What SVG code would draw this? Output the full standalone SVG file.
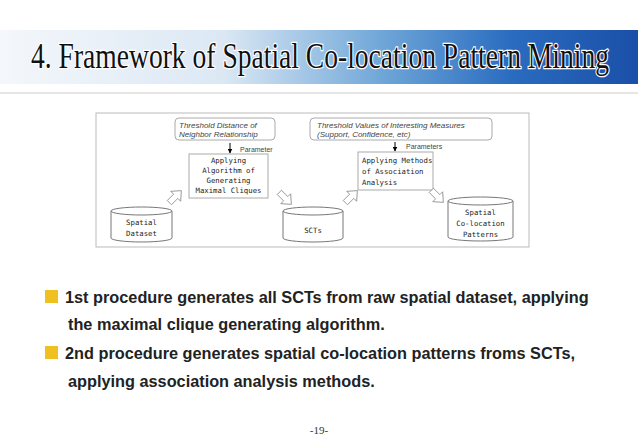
<svg xmlns="http://www.w3.org/2000/svg" width="638" height="442" viewBox="0 0 638 442">
<defs>
<linearGradient id="hg" x1="0" y1="0" x2="1" y2="0">
<stop offset="0" stop-color="#f4f7fb"/><stop offset="0.35" stop-color="#dbe8f4"/><stop offset="0.6" stop-color="#6fa6d8"/><stop offset="0.8" stop-color="#2a6cc0"/><stop offset="1" stop-color="#1a4fa8"/>
</linearGradient>
<marker id="ah" viewBox="0 0 10 10" refX="9" refY="5" markerWidth="5" markerHeight="5" orient="auto"><path d="M0,0 L10,5 L0,10 z" fill="#000"/></marker>
<g id="hol"><path d="M-8,-3 L1,-3 L1,-7 L9,0 L1,7 L1,3 L-8,3 z" fill="#fff" stroke="#888" stroke-width="0.8"/></g>
</defs>
<style>
.mono{font-family:"DejaVu Sans Mono","Liberation Mono",monospace;font-size:7.3px;fill:#222}
.ital{font-family:"Liberation Sans",Arial,sans-serif;font-style:italic;font-size:8px;fill:#444}
.sm{font-family:"Liberation Sans",Arial,sans-serif;font-size:7px;fill:#444}
.box{fill:#fff;stroke:#aaa;stroke-width:1}
.cyl{fill:#fff;stroke:#666;stroke-width:0.9}
.bt{font-family:"Liberation Sans",Arial,sans-serif;font-weight:bold;font-size:16.3px;fill:#222}
</style>
<rect width="638" height="442" fill="#fff"/>
<rect x="0" y="30" width="638" height="54" fill="url(#hg)"/>
<g id="title">
<text x="31" y="68" font-family="Liberation Serif,serif" font-size="36" fill="#111" stroke="#fff" stroke-width="2.5" paint-order="stroke" textLength="578" lengthAdjust="spacingAndGlyphs">4. Framework of Spatial Co-location Pattern Mining</text>
</g>
<line x1="0" y1="93" x2="638" y2="93" stroke="#ccc" stroke-width="1"/>
<rect x="96" y="113" width="433" height="134" fill="#fff" stroke="#bbb"/>
<g id="thr1"><rect x="175" y="118" width="100" height="22" rx="4" class="box"/>
<text x="179" y="128" class="ital">Threshold Distance of</text><text x="179" y="137" class="ital">Neighbor Relationship</text></g>
<g id="thr2"><rect x="310" y="118" width="182" height="22" rx="4" class="box"/>
<text x="317" y="128" class="ital">Threshold Values of Interesting Measures</text><text x="317" y="137" class="ital">(Support, Confidence, etc)</text></g>
<g id="alg"><rect x="189" y="154" width="79" height="44" class="box"/>
<text class="mono" text-anchor="middle"><tspan x="228.5" y="163">Applying</tspan><tspan x="228.5" y="173">Algorithm of</tspan><tspan x="228.5" y="183">Generating</tspan><tspan x="228.5" y="193">Maximal Cliques</tspan></text></g>
<g id="assoc"><rect x="358" y="152" width="75" height="38" class="box"/>
<text class="mono"><tspan x="362" y="163">Applying Methods</tspan><tspan x="362" y="174">of Association</tspan><tspan x="362" y="185">Analysis</tspan></text></g>
<g id="ds"><path d="M111,211 v27 a30.5,4 0 0 0 61,0 v-27" class="cyl"/><ellipse cx="141.5" cy="211" rx="30.5" ry="4" class="cyl"/>
<text class="mono" text-anchor="middle"><tspan x="141.5" y="225">Spatial</tspan><tspan x="141.5" y="236">Dataset</tspan></text></g>
<g id="scts"><path d="M283,211 v27 a30,4 0 0 0 60,0 v-27" class="cyl"/><ellipse cx="313" cy="211" rx="30" ry="4" class="cyl"/>
<text x="313" y="233" class="mono" text-anchor="middle">SCTs</text></g>
<g id="pat"><path d="M448,201 v36 a32.5,4 0 0 0 65,0 v-36" class="cyl"/><ellipse cx="480.5" cy="201" rx="32.5" ry="4" class="cyl"/>
<text class="mono" text-anchor="middle"><tspan x="480.5" y="215">Spatial</tspan><tspan x="480.5" y="226">Co-location</tspan><tspan x="480.5" y="237">Patterns</tspan></text></g>
<g id="connectors">
<line x1="230" y1="143" x2="230" y2="153" stroke="#000" marker-end="url(#ah)"/>
<text x="240" y="152" class="sm">Parameter</text>
<line x1="395" y1="142" x2="395" y2="151" stroke="#000" marker-end="url(#ah)"/>
<text x="406" y="149" class="sm">Parameters</text>
<use href="#hol" transform="translate(175,197) rotate(-45)"/>
<use href="#hol" transform="translate(285,198) rotate(45)"/>
<use href="#hol" transform="translate(351,197) rotate(-45)"/>
<use href="#hol" transform="translate(437,196) rotate(45)"/>
</g>
<g id="bullets">
<rect x="45" y="290" width="13" height="13" fill="#f0c020"/>
<text x="65" y="303" class="bt">1st procedure generates all SCTs from raw spatial dataset, applying</text>
<text x="68" y="330" class="bt">the maximal clique generating algorithm.</text>
<rect x="45" y="346" width="13" height="13" fill="#f0c020"/>
<text x="65" y="359" class="bt">2nd procedure generates spatial co-location patterns froms SCTs,</text>
<text x="68" y="387" class="bt">applying association analysis methods.</text>
</g>
<text x="319" y="434" text-anchor="middle" font-family="Liberation Serif,serif" font-size="11" fill="#333">-19-</text>
</svg>
